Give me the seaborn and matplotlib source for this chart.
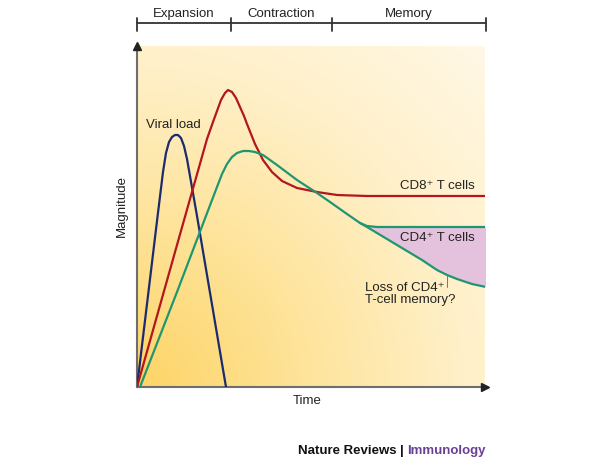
import numpy as np
import matplotlib
matplotlib.use("Agg")
import matplotlib.pyplot as plt
from matplotlib.colors import LinearSegmentedColormap
import seaborn as sns

# viral load (time, magnitude)
viral_t = [0, 10, 20, 26, 29, 32, 35, 38, 41, 44, 47, 50, 53, 60, 70, 80, 89]
viral_y = [0, 83, 166, 215, 234, 245, 250, 252, 252, 249, 241, 228, 211, 171, 112, 53, 0]

# CD8+ T cells
cd8_t = [0, 40, 70, 76, 80, 84, 88, 91, 95, 99, 103, 107, 110, 118, 126, 135, 145, 160, 180, 200, 230, 349]
cd8_y = [0, 142, 248, 265, 276, 287, 294, 297, 295, 289, 280, 271, 263, 243, 227, 215, 206, 199, 195, 192, 191, 191]

# CD4+ T cells, before the split
cd4_t = [3, 40, 80, 85, 90, 95, 100, 106, 112, 118, 126, 140, 160, 180, 193, 210, 223]
cd4_y = [0, 95, 200, 213, 223, 230, 234, 236, 236, 235, 232, 222, 207, 194, 185, 173, 164]

# memory phase: kept CD4 memory vs lost CD4 memory
mem_t = [223, 230, 240, 260, 285, 300, 310, 320, 335, 349]
mem_keep = [164, 161, 160, 160, 160, 160, 160, 160, 160, 160]
mem_loss = [164, 160, 154, 142, 127, 117, 112, 108, 103, 100]

phases = ["Expansion", "Contraction", "Memory"]
phase_edges = [0, 94, 195, 349]

sns.set_style("white")
plt.rcParams['font.family'] = ['Liberation Sans', 'DejaVu Sans']

fig = plt.figure(figsize=(6, 4.67), dpi=100)
W, H = 600, 467
ax = fig.add_axes([137 / W, 1 - 387 / H, (485 - 137) / W, (387 - 46) / H])
xmax, ymax = 348, 341

# radial background from the bottom-left corner
gx, gy = np.meshgrid(np.linspace(0, 1, 300), np.linspace(0, 1, 300))
dist = np.sqrt(gx ** 2 + gy ** 2) / np.sqrt(2)
bg = LinearSegmentedColormap.from_list("bg", ["#fdd466", "#fee399", "#fff0c9", "#fff8e6"])
ax.imshow(dist, cmap=bg, origin="lower", extent=[0, xmax, 0, ymax], aspect="auto", zorder=0)

ax.fill_between(mem_t, mem_loss, mem_keep, color="#e4c1dd", zorder=1, lw=0)

sns.lineplot(x=viral_t, y=viral_y, ax=ax, color="#1d2a6e", lw=1.6, sort=False, zorder=3)
sns.lineplot(x=cd8_t, y=cd8_y, ax=ax, color="#b3161f", lw=1.6, sort=False, zorder=3)
sns.lineplot(x=cd4_t, y=cd4_y, ax=ax, color="#1f9672", lw=1.6, sort=False, zorder=3)
sns.lineplot(x=mem_t, y=mem_keep, ax=ax, color="#1f9672", lw=1.6, sort=False, zorder=3)
sns.lineplot(x=mem_t, y=mem_loss, ax=ax, color="#1f9672", lw=1.6, sort=False, zorder=3)

ax.set_xlim(0, xmax)
ax.set_ylim(0, ymax)
ax.set_xticks([])
ax.set_yticks([])
for s in ["top", "right"]:
    ax.spines[s].set_visible(False)
for s in ["left", "bottom"]:
    ax.spines[s].set_color("#6e6e6e")
    ax.spines[s].set_linewidth(1.5)

# arrow heads
ax.plot([0], [ymax], marker="^", color="#222222", ms=6, clip_on=False, zorder=5)
ax.plot([xmax], [0], marker=">", color="#222222", ms=6, clip_on=False, zorder=5)

fs = 9.5
ax.text(0.489, -0.041, "Time", fontsize=fs, ha="center", va="center",
        transform=ax.transAxes, color="#222222")
ax.text(-0.043, 0.53, "Magnitude", fontsize=fs, ha="center", va="center", rotation=90,
        transform=ax.transAxes, color="#222222")

ax.text(9, 262, "Viral load", fontsize=fs, va="center", ha="left", color="#222222")
ax.text(338, 201, "CD8⁺ T cells", fontsize=fs, va="center", ha="right", color="#222222")
ax.text(338, 149, "CD4⁺ T cells", fontsize=fs, va="center", ha="right", color="#222222")
ax.text(228, 99, "Loss of CD4⁺", fontsize=fs, va="center", ha="left", color="#222222")
ax.text(228, 87, "T-cell memory?", fontsize=fs, va="center", ha="left", color="#222222")
ax.plot([310, 310], [112, 100], color="#777777", lw=0.7, zorder=4)

# phase bar on top
bar_y, tick_lo, tick_hi = 364, 356, 369
ax.plot([phase_edges[0], phase_edges[-1]], [bar_y, bar_y], color="#333333", lw=1.3, clip_on=False)
for e in phase_edges:
    ax.plot([e, e], [tick_lo, tick_hi], color="#333333", lw=1.3, clip_on=False)
for i, p in enumerate(phases):
    ax.text((phase_edges[i] + phase_edges[i + 1]) / 2, 373, p, fontsize=fs,
            ha="center", va="center", color="#222222", clip_on=False)

# journal credit
fig.text(397 / W, 1 - 451 / H, "Nature Reviews", fontsize=9.5, fontweight="bold",
         ha="right", va="center", color="#111111")
fig.text(402 / W, 1 - 451 / H, "|", fontsize=9.5, fontweight="bold",
         ha="center", va="center", color="#111111")
fig.text(407 / W, 1 - 451 / H, "Immunology", fontsize=9.5, fontweight="bold",
         ha="left", va="center", color="#6b3f98")

fig.savefig("out.png", dpi=100)
